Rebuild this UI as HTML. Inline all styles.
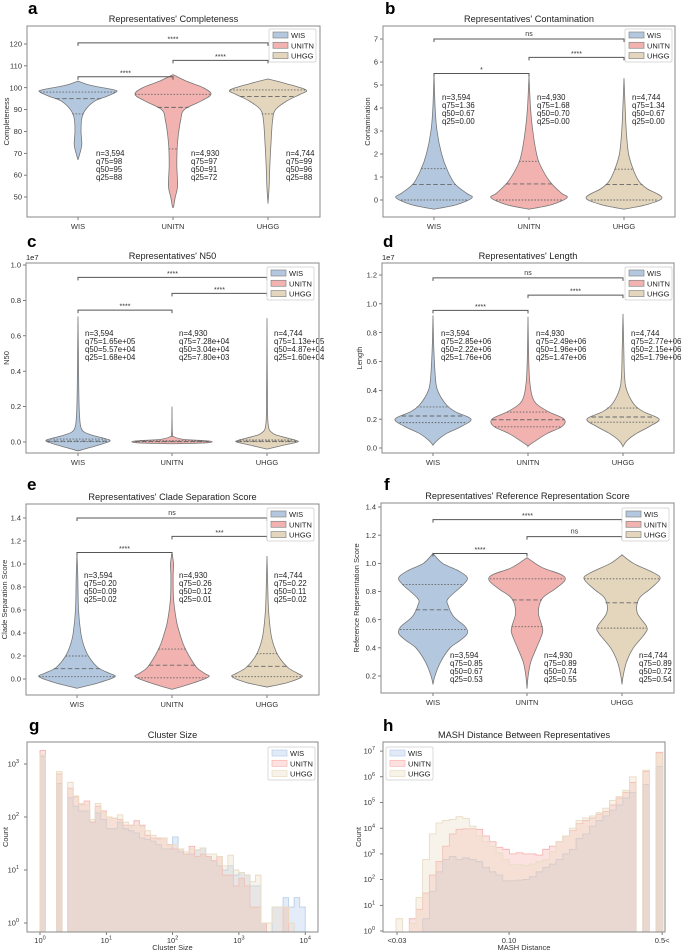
<!DOCTYPE html>
<html><head><meta charset="utf-8">
<style>
html,body{margin:0;padding:0;background:#fff;}
svg{display:block;font-family:"Liberation Sans","DejaVu Sans",sans-serif;}
</style></head>
<body>
<svg id="fig" width="685" height="952" viewBox="0 0 685 952" xmlns="http://www.w3.org/2000/svg"></svg>
<script>
// ---------- DATA ----------
const groups=['WIS','UNITN','UHGG'];
const nLabels=['3,594','4,930','4,744'];
// panel a: completeness
const aQ75=[98,97,99], aQ50=[95,91,96], aQ25=[88,72,88];
const aTicks=[50,60,70,80,90,100,110,120];
const aShapeWIS=[[103,0],[101,0.35],[99,0.95],[98,1],[96,0.75],[94,0.45],[90,0.2],[86,0.1],[80,0.08],[74,0.1],[70,0.05],[67,0]];
const aShapeUNITN=[[106,0],[103,0.35],[100,0.8],[97,1],[94,0.75],[90,0.3],[85,0.2],[75,0.12],[65,0.1],[55,0.12],[50,0.06],[46,0.02],[45,0]];
const aShapeUHGG=[[104,0],[102,0.45],[99,1],[97,0.85],[94,0.5],[90,0.2],[85,0.12],[75,0.08],[65,0.05],[55,0.03],[47,0]];
const aBrackets=[[120.5,0,2,'****'],[112.5,1,2,'****'],[105,0,1,'****']];
// panel b: contamination
const bQ75=[1.36,1.68,1.34], bQ50=[0.67,0.70,0.67], bQ25=[0,0,0];
const bTicks=[0,1,2,3,4,5,6,7];
const bShapeWIS=[[5.5,0],[4,0.03],[3,0.08],[2,0.2],[1.3,0.35],[0.7,0.55],[0.3,0.85],[0.1,1],[-0.2,0.6],[-0.4,0]];
const bShapeUNITN=[[5.4,0],[4,0.04],[3,0.1],[2,0.2],[1.5,0.3],[0.8,0.55],[0.3,0.85],[0.1,1],[-0.2,0.6],[-0.4,0]];
const bShapeUHGG=[[5.3,0],[4,0.03],[3,0.06],[2,0.12],[1.3,0.25],[0.8,0.4],[0.5,0.6],[0.1,1],[-0.2,0.6],[-0.4,0]];
const bBrackets=[[7.0,0,2,'ns'],[6.2,1,2,'****'],[5.5,0,1,'*']];
// panel c: N50 (raw)
const cQ75=[165000,72800,113000], cQ50=[55700,30400,48700], cQ25=[16800,7800,16000];
const cTicks=[0,0.2,0.4,0.6,0.8,1.0];
const cShapeWIS=[[0.71,0],[0.5,0.01],[0.3,0.02],[0.15,0.04],[0.07,0.1],[0.04,0.35],[0.02,0.7],[0.005,0.84],[-0.02,0.5],[-0.05,0]];
const cShapeUNITN=[[0.2,0],[0.05,0.01],[0.03,0.05],[0.015,0.3],[0.005,1],[-0.005,0.9],[-0.01,0]];
const cShapeUHGG=[[0.7,0],[0.3,0.01],[0.1,0.03],[0.05,0.15],[0.03,0.4],[0.01,0.75],[0,0.8],[-0.02,0.4],[-0.04,0]];
const cBrackets=[[0.93,0,2,'****'],[0.84,1,2,'****'],[0.745,0,1,'****']];
// panel d: length (raw)
const dQ75=[2850000,2490000,2770000], dQ50=[2220000,1960000,2150000], dQ25=[1760000,1470000,1790000];
const dTicks=[0,0.2,0.4,0.6,0.8,1.0,1.2];
const dShapeWIS=[[0.92,0],[0.7,0.02],[0.5,0.06],[0.4,0.12],[0.3,0.35],[0.25,0.6],[0.2,1],[0.15,0.75],[0.1,0.35],[0.05,0.1],[0.02,0]];
const dShapeUNITN=[[0.91,0],[0.6,0.02],[0.45,0.05],[0.35,0.12],[0.3,0.25],[0.25,0.55],[0.2,0.95],[0.15,0.9],[0.1,0.5],[0.05,0.2],[0.02,0.03],[0.01,0]];
const dShapeUHGG=[[0.93,0],[0.7,0.02],[0.5,0.04],[0.4,0.1],[0.3,0.3],[0.25,0.55],[0.2,0.95],[0.15,0.7],[0.1,0.35],[0.05,0.1],[0.01,0]];
const dBrackets=[[1.18,0,2,'ns'],[1.06,1,2,'****'],[0.955,0,1,'****']];
// panel e: clade separation
const eQ75=[0.20,0.26,0.22], eQ50=[0.09,0.12,0.11], eQ25=[0.02,0.01,0.02];
const eTicks=[0,0.2,0.4,0.6,0.8,1.0,1.2,1.4];
const eShapeWIS=[[1.1,0],[0.9,0.02],[0.6,0.04],[0.4,0.1],[0.3,0.17],[0.2,0.3],[0.1,0.55],[0.05,0.85],[0.02,1],[-0.03,0.6],[-0.08,0]];
const eShapeUNITN=[[1.1,0],[1.0,0.04],[0.9,0.03],[0.7,0.04],[0.5,0.12],[0.4,0.2],[0.3,0.3],[0.2,0.45],[0.1,0.65],[0.05,0.85],[0.02,0.97],[-0.03,0.6],[-0.09,0]];
const eShapeUHGG=[[1.07,0],[0.8,0.02],[0.6,0.04],[0.4,0.1],[0.3,0.17],[0.2,0.3],[0.1,0.55],[0.05,0.8],[0.02,0.92],[-0.03,0.55],[-0.07,0]];
const eBrackets=[[1.4,0,2,'ns'],[1.24,1,2,'***'],[1.1,0,1,'****']];
// panel f: reference representation
const fQ75=[0.85,0.89,0.89], fQ50=[0.67,0.74,0.72], fQ25=[0.53,0.55,0.54];
const fTicks=[0.2,0.4,0.6,0.8,1.0,1.2,1.4];
const fShapeWIS=[[1.07,0],[1.0,0.25],[0.95,0.65],[0.9,0.9],[0.85,0.8],[0.75,0.4],[0.7,0.4],[0.62,0.55],[0.55,0.85],[0.5,0.9],[0.45,0.7],[0.4,0.45],[0.3,0.2],[0.2,0.05],[0.14,0]];
const fShapeUNITN=[[1.04,0],[0.97,0.4],[0.92,0.9],[0.88,1],[0.82,0.75],[0.75,0.4],[0.65,0.3],[0.55,0.4],[0.5,0.4],[0.4,0.25],[0.3,0.1],[0.2,0.03],[0.11,0]];
const fShapeUHGG=[[1.06,0],[1.0,0.3],[0.93,0.85],[0.89,1],[0.82,0.75],[0.75,0.45],[0.65,0.4],[0.55,0.65],[0.5,0.6],[0.4,0.3],[0.3,0.12],[0.2,0.03],[0.14,0]];
const fBrackets=[[1.31,0,2,'****'],[1.19,1,2,'ns'],[1.07,0,1,'****']];
// panel g: cluster size histogram (48 log bins, 1/12 decade each)
const gWIS=[1400,0,0,430,0,230,160,130,130,80,120,90,60,60,80,60,55,50,40,38,35,30,25,25,42,22,20,20,24,26,18,15,12,10,12,8,9,8,5,5,1,0,2,2,3,2,3,2];
const gUNITN=[1800,0,0,650,0,350,240,170,200,80,160,130,100,95,90,70,70,85,70,45,40,40,40,30,25,25,20,28,18,20,18,15,18,8,8,5,7,5,2,2,1,0,0,0,2,0,0,0];
const gUHGG=[1500,0,0,720,0,450,250,180,170,90,180,120,100,95,110,80,65,70,66,55,45,38,40,28,30,25,22,25,24,26,20,20,18,12,19,10,9,8,6,8,1,1,2,2,2,1,0,0];
const gTicksExp=[0,1,2,3,4];
const gYTicksExp=[0,1,2,3];
// panel h: MASH distance histogram (40 bins)
const hWIS=[0,0,0,0,3,35,200,600,800,600,700,600,500,300,200,150,90,90,95,100,130,200,300,400,600,1000,1500,4000,6000,12000,20000,30000,50000,80000,150000,250000,0,500000,0,2500000];
const hUNITN=[0,0,3,7,30,150,500,2000,6000,9000,9500,9500,9000,5000,3000,1800,1500,1000,1100,1000,1000,900,1500,2000,3000,5000,8000,15000,20000,25000,35000,45000,80000,150000,250000,600000,0,1600000,0,9000000];
const hUHGG=[3,0,2,20,600,6000,16000,20000,22000,28000,24000,12000,5000,3000,2000,1100,600,380,380,350,400,500,600,1200,3000,5000,10000,20000,25000,30000,40000,60000,120000,170000,300000,1000000,0,1800000,0,8000000];
const hXTickLabels=['<0.03','0.10','0.5<'];
const hXTickBins=[0.15,16.95,39.9];
const hYTicksExp=[0,1,2,3,4,5,6,7];

// ---------- HELPERS ----------
const NS='http://www.w3.org/2000/svg';
const svg=document.getElementById('fig');
function el(tag,attrs,parent){const e=document.createElementNS(NS,tag);for(const k in attrs)e.setAttribute(k,attrs[k]);(parent||svg).appendChild(e);return e;}
function txt(s,x,y,size,anchor,parent,extra){const t=el('text',Object.assign({x:x,y:y,'font-size':size,'text-anchor':anchor||'start',fill:'#222'},extra||{}),parent);t.textContent=s;return t;}
const fills=['#b3c8df','#f2b3b0','#e4d6bd'];
const hFills=['#a9c6ea','#f7a9a5','#eadcbf'];
const hEdges=['#b9cfe8','#f6b5b2','#e9dcc4'];

function catmull(pts){let d='M'+pts[0][0]+','+pts[0][1];for(let i=0;i<pts.length-1;i++){const p0=pts[Math.max(0,i-1)],p1=pts[i],p2=pts[i+1],p3=pts[Math.min(pts.length-1,i+2)];const c1=[p1[0]+(p2[0]-p0[0])/6,p1[1]+(p2[1]-p0[1])/6];const c2=[p2[0]-(p3[0]-p1[0])/6,p2[1]-(p3[1]-p1[1])/6];d+=' C'+c1[0].toFixed(2)+','+c1[1].toFixed(2)+' '+c2[0].toFixed(2)+','+c2[1].toFixed(2)+' '+p2[0].toFixed(2)+','+p2[1].toFixed(2);}return d;}
function densAt(shape,v){for(let i=0;i<shape.length-1;i++){const a=shape[i],b=shape[i+1];if(v<=a[0]&&v>=b[0]){const t=(a[0]-v)/(a[0]-b[0]||1);return a[1]+(b[1]-a[1])*t;}}return 0;}
function fmtExp(v){const e=Math.floor(Math.log10(v));const m=v/Math.pow(10,e);return m.toFixed(2)+'e+'+(e<10?'0':'')+e;}

function legend(x,y,parent,hist){
  const g=el('g',{},parent);
  
  
  el('rect',{x:x,y:y,width:47,height:33,fill:'#fff','fill-opacity':0.85,stroke:'#ccc','stroke-width':0.7,rx:1.5},g);
  groups.forEach((gname,i)=>{
    const r=el('rect',{x:x+4,y:y+3+i*10.3,width:15,height:6,fill:hist?hFills[i]:fills[i],'fill-opacity':hist?0.35:1,stroke:hist?hEdges[i]:'#888','stroke-width':0.7},g);
    
    
    const t=txt(gname,x+22,y+9+i*10.3,7.5,'start',g);
    
    
  });
}

function violinPanel(p){
  const g=el('g',{});
  
  
  const ys=v=>p.p1+(p.v1-v)*(p.p2-p.p1)/(p.v1-p.v2);
  const [x0,y0,x1,y1]=p.box;
  const L=txt(p.letter,p.lx,p.ly,17,'start',g,{'font-weight':'bold',fill:'#000'});
  
  
  const T=txt(p.title,(x0+x1)/2,y0-4,9.2,'middle',g);
  
  
  if(p.sci){const s=txt('1e7',x0,y0-3,7.5,'start',g);}
  p.ticks.forEach(v=>{const y=ys(v);
    el('line',{x1:x0-3,x2:x0,y1:y,y2:y,stroke:'#444','stroke-width':0.7},g);
    const t=txt(p.tfmt(v),x0-5,y+2.6,7.5,'end',g,{fill:'#333'});
    
    
  });
  const yl=txt(p.ylabel,0,0,7.5,'middle',g,{transform:'translate('+p.ylx+','+((y0+y1)/2)+') rotate(-90)',fill:'#333'});
  
  
  p.shapes.forEach((shape,i)=>{
    const cx=p.xs[i];
    const right=shape.map(s=>[cx+s[1]*p.hw,ys(s[0]/p.scale)]);
    const left=shape.slice().reverse().map(s=>[cx-s[1]*p.hw,ys(s[0]/p.scale)]);
    const d=catmull(right)+' L'+catmull(left).slice(1)+' Z';
    const v=el('path',{d:d,fill:fills[i],stroke:'#777','stroke-width':0.8},g);
    
    
    [[p.q25[i],'1.6,1.6'],[p.q50[i],'4.5,2.5'],[p.q75[i],'1.6,1.6']].forEach(q=>{
      const val=q[0]/p.qscale;const w=densAt(shape,val*p.scale)*p.hw;const y=ys(val);
      const ql=el('line',{x1:cx-w,x2:cx+w,y1:y,y2:y,stroke:'#666','stroke-width':0.9,'stroke-dasharray':q[1]},g);
      
      
    });
    const xl=txt(groups[i],cx,y1+12,7.5,'middle',g,{fill:'#333'});
    
    
    el('line',{x1:cx,x2:cx,y1:y1,y2:y1+3,stroke:'#444','stroke-width':0.7},g);
    const lines=['n='+nLabels[i],'q75='+p.qfmt(p.q75[i]),'q50='+p.qfmt(p.q50[i]),'q25='+p.qfmt(p.q25[i])];
    lines.forEach((s,k)=>{const t=txt(s,cx+p.adx,p.ay+k*8,7.8,'start',g);
      
      });
  });
  p.brackets.forEach(b=>{const y=ys(b[0]);const xa=p.xs[b[1]],xb=p.xs[b[2]];
    const br=el('path',{d:'M'+xa+','+(y+3)+' L'+xa+','+y+' L'+xb+','+y+' L'+xb+','+(y+3),fill:'none',stroke:'#555','stroke-width':1},g);
    
    
    const t=txt(b[3],(xa+xb)/2,y-(b[3]==='ns'?3:1.5),7,'middle',g,{fill:'#333'});
    
    
  });
  const box=el('rect',{x:x0,y:y0,width:x1-x0,height:y1-y0,fill:'none',stroke:'#888','stroke-width':1},g);
  
  
  legend(p.lgx,p.lgy,g,false);
}

const f0=v=>String(Math.round(v)), f1=v=>v.toFixed(1), f2=v=>v.toFixed(2);
violinPanel({letter:'a',lx:28,ly:14,title:"Representatives' Completeness",ylabel:'Completeness',ylx:9,box:[27,26,320,217],v1:120,p1:44,v2:50,p2:197,xs:[78,173,268],hw:38,ticks:aTicks,tfmt:f0,shapes:[aShapeWIS,aShapeUNITN,aShapeUHGG],scale:1,q25:aQ25,q50:aQ50,q75:aQ75,qscale:1,qfmt:f0,adx:18,ay:156,brackets:aBrackets,lgx:269,lgy:29});
violinPanel({letter:'b',lx:385,ly:14,title:"Representatives' Contamination",ylabel:'Contamination',ylx:370,box:[383,26,675,217],v1:7,p1:39,v2:0,p2:200,xs:[434,529,624],hw:38,ticks:bTicks,tfmt:f0,shapes:[bShapeWIS,bShapeUNITN,bShapeUHGG],scale:1,q25:bQ25,q50:bQ50,q75:bQ75,qscale:1,qfmt:f2,adx:8,ay:100,brackets:bBrackets,lgx:625,lgy:29});
violinPanel({letter:'c',lx:27,ly:247,title:"Representatives' N50",ylabel:'N50',ylx:9,sci:true,box:[26,263,319,453],v1:1,p1:265,v2:0,p2:442,xs:[78,172,267],hw:38,ticks:cTicks,tfmt:f1,shapes:[cShapeWIS,cShapeUNITN,cShapeUHGG],scale:1,q25:cQ25,q50:cQ50,q75:cQ75,qscale:1e7,qfmt:fmtExp,adx:7,ay:336,brackets:cBrackets,lgx:267,lgy:267});
violinPanel({letter:'d',lx:383,ly:247,title:"Representatives' Length",ylabel:'Length',ylx:362,sci:true,box:[382,263,674,453],v1:1.2,p1:275,v2:0,p2:448,xs:[433,528,623],hw:38,ticks:dTicks,tfmt:f1,shapes:[dShapeWIS,dShapeUNITN,dShapeUHGG],scale:1,q25:dQ25,q50:dQ50,q75:dQ75,qscale:1e7,qfmt:fmtExp,adx:8,ay:336,brackets:dBrackets,lgx:625,lgy:267});
violinPanel({letter:'e',lx:27,ly:490,title:"Representatives' Clade Separation Score",ylabel:'Clade Separation Score',ylx:7,box:[26,504,319,695],v1:1.4,p1:518,v2:0,p2:679,xs:[77,172,267],hw:38,ticks:eTicks,tfmt:f1,shapes:[eShapeWIS,eShapeUNITN,eShapeUHGG],scale:1,q25:eQ25,q50:eQ50,q75:eQ75,qscale:1,qfmt:f2,adx:7,ay:578,brackets:eBrackets,lgx:267,lgy:508});
violinPanel({letter:'f',lx:384,ly:490,title:"Representatives' Reference Representation Score",ylabel:'Reference Representation Score',ylx:359,box:[381,503,674,693],v1:1.4,p1:507,v2:0.2,p2:676,xs:[433,527,622],hw:38,ticks:fTicks,tfmt:f1,shapes:[fShapeWIS,fShapeUNITN,fShapeUHGG],scale:1,q25:fQ25,q50:fQ50,q75:fQ75,qscale:1,qfmt:f2,adx:17,ay:658,brackets:fBrackets,lgx:622,lgy:508});

// ---------- HISTOGRAMS ----------
function sup(base,exp,x,y,anchor,parent){const t=el('text',{x:x,y:y,'font-size':7.5,'text-anchor':anchor,fill:'#333'},parent);t.textContent=base;const s=el('tspan',{'font-size':5.5,dy:-3.5},t);s.textContent=exp;return t;}
function histPanel(p){
  const g=el('g',{});
  
  
  const [x0,y0,x1,y1]=p.box;
  const ys=v=>p.y0p-Math.log10(v)*p.dec;
  const L=txt(p.letter,p.lx,p.ly,17,'start',g,{'font-weight':'bold',fill:'#000'});
  
  
  const T=txt(p.title,(x0+x1)/2,y0-4,9.2,'middle',g);
  
  
  p.yticks.forEach(e=>{const y=ys(Math.pow(10,e));
    el('line',{x1:x0-3,x2:x0,y1:y,y2:y,stroke:'#444','stroke-width':0.7},g);
    const t=sup('10',String(e),x0-8,y+2.6,'end',g);
    
    
  });
  const yl=txt('Count',0,0,7.5,'middle',g,{transform:'translate('+p.ylx+','+((y0+y1)/2)+') rotate(-90)',fill:'#333'});
  
  
  const xl=txt(p.xlabel,(x0+x1)/2,y1+18,7.5,'middle',g,{fill:'#333'});
  
  
  p.series.forEach((vals,si)=>{
    let d='M'+p.bx(0)+','+y1;
    vals.forEach((v,k)=>{const y=v>0?ys(v):y1;d+=' L'+p.bx(k)+','+y+' L'+p.bx(k+1)+','+y;});
    d+=' L'+p.bx(vals.length)+','+y1+' Z';
    const h=el('path',{d:d,fill:hFills[si],'fill-opacity':0.33,stroke:hEdges[si],'stroke-width':0.9},g);
    
    
  });
  p.xticks(g);
  const box=el('rect',{x:x0,y:y0,width:x1-x0,height:y1-y0,fill:'none',stroke:'#888','stroke-width':1},g);
  
  
  legend(p.lgx,p.lgy,g,true);
}
const gx=lv=>40+66.3*lv;
histPanel({letter:'g',lx:29,ly:731,title:'Cluster Size',xlabel:'Cluster Size',ylx:8,box:[27,742,318,932],y0p:923,dec:53,yticks:gYTicksExp,
  series:[gWIS,gUNITN,gUHGG],bx:k=>gx(k/12),lgx:268,lgy:747,
  xticks:function(g){gTicksExp.forEach(e=>{const x=gx(e);el('line',{x1:x,x2:x,y1:932,y2:935,stroke:'#444','stroke-width':0.7},g);
    const t=sup('10',String(e),x,943,'middle',g);});}});
const hx=k=>396+6.67*k;
histPanel({letter:'h',lx:383,ly:731,title:'MASH Distance Between Representatives',xlabel:'MASH Distance',ylx:361,box:[383,742,665,932],y0p:931,dec:25.7,yticks:hYTicksExp,
  series:[hWIS,hUNITN,hUHGG],bx:hx,lgx:386,lgy:747,
  xticks:function(g){hXTickBins.forEach((b,i)=>{const x=hx(b);el('line',{x1:x,x2:x,y1:932,y2:935,stroke:'#444','stroke-width':0.7},g);
    const t=txt(hXTickLabels[i],x,943,7.5,'middle',g,{fill:'#333'});});}});
</script>
</body></html>
